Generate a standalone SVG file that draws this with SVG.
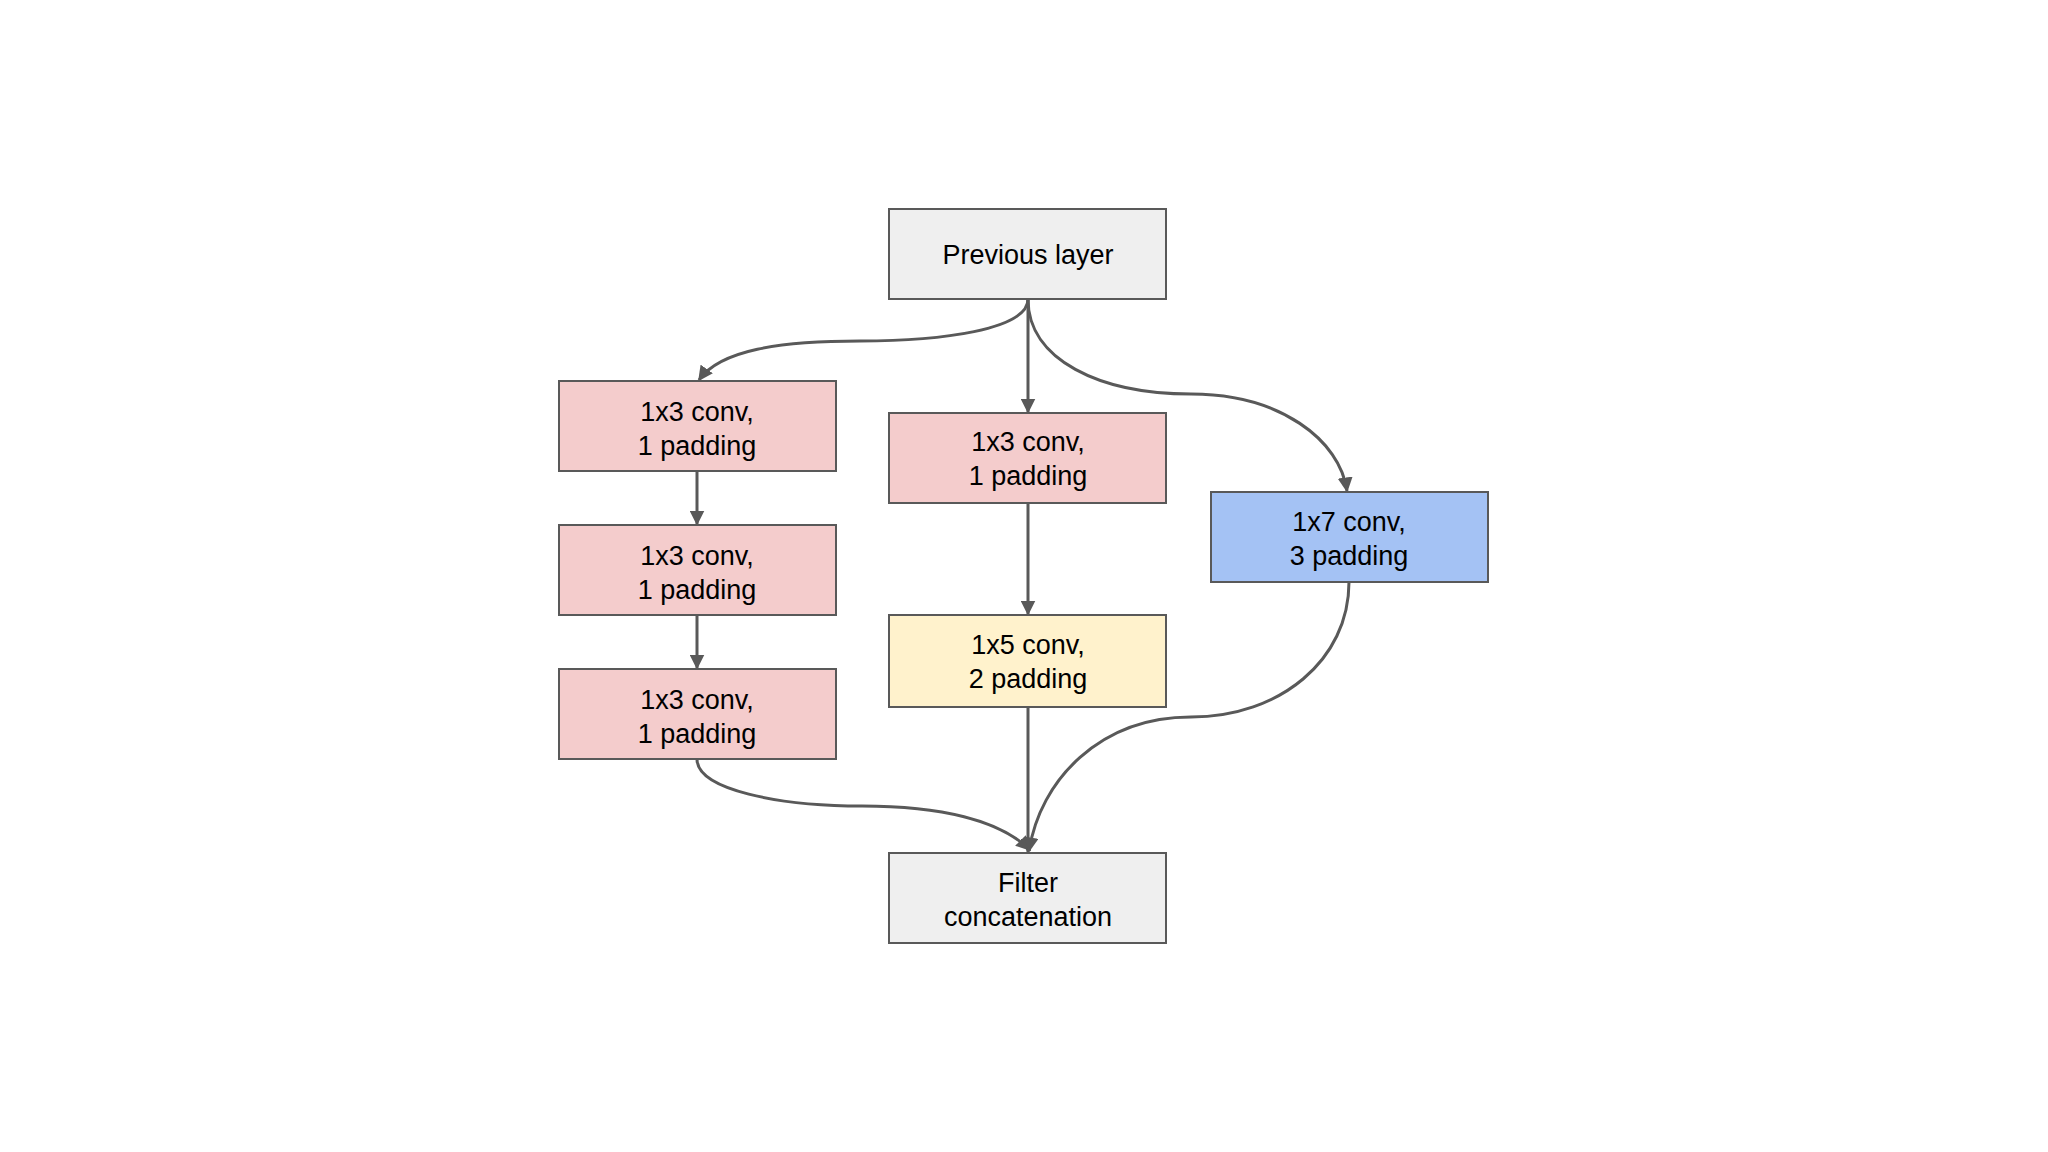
<svg xmlns="http://www.w3.org/2000/svg" width="2048" height="1152" viewBox="0 0 2048 1152">
<style>
.b{stroke:#595959;stroke-width:2}
.t{font-family:"Liberation Sans",Arial,sans-serif;font-size:27px;fill:#000;text-anchor:middle}
.c{fill:none;stroke:#595959;stroke-width:3;marker-end:url(#a)}
</style>
<defs><marker id="a" viewBox="0 0 10 10" refX="9" refY="5" markerWidth="5" markerHeight="5" orient="auto" markerUnits="strokeWidth"><path d="M0,0L10,5L0,10z" fill="#595959"/></marker></defs>
<rect width="2048" height="1152" fill="#fff"/>
<g id="connectors">
<path class="c" d="M1028,299 C1028,330 940,341 860,341 C780,341 720,350 699,380"/>
<path class="c" d="M1028,299 L1028,412"/>
<path class="c" d="M1028,299 C1028,360 1100,394 1191,394 C1280,394 1340,440 1347,491"/>
<path class="c" d="M697,471 L697,524"/>
<path class="c" d="M697,615 L697,668"/>
<path class="c" d="M1028,503 L1028,614"/>
<path class="c" d="M1028,707 L1028,852"/>
<path class="c" d="M697,759 C697,790 780,806 862,806 C940,806 1000,820 1030,850"/>
<path class="c" d="M1349,582 C1349,660 1280,717 1191,717 C1100,717 1040,780 1029,851"/>
</g>
<g id="prev"><rect class="b" x="889" y="209" width="277" height="90" fill="#efefef"/><text class="t" x="1028" y="264">Previous layer</text></g>
<g id="l1"><rect class="b" x="559" y="381" width="277" height="90" fill="#f4cccc"/><text class="t" x="697" y="421">1x3 conv,</text><text class="t" x="697" y="455">1 padding</text></g>
<g id="l2"><rect class="b" x="559" y="525" width="277" height="90" fill="#f4cccc"/><text class="t" x="697" y="565">1x3 conv,</text><text class="t" x="697" y="599">1 padding</text></g>
<g id="l3"><rect class="b" x="559" y="669" width="277" height="90" fill="#f4cccc"/><text class="t" x="697" y="709">1x3 conv,</text><text class="t" x="697" y="743">1 padding</text></g>
<g id="m1"><rect class="b" x="889" y="413" width="277" height="90" fill="#f4cccc"/><text class="t" x="1028" y="451">1x3 conv,</text><text class="t" x="1028" y="485">1 padding</text></g>
<g id="m2"><rect class="b" x="889" y="615" width="277" height="92" fill="#fff2cc"/><text class="t" x="1028" y="654">1x5 conv,</text><text class="t" x="1028" y="688">2 padding</text></g>
<g id="r1"><rect class="b" x="1211" y="492" width="277" height="90" fill="#a4c2f4"/><text class="t" x="1349" y="531">1x7 conv,</text><text class="t" x="1349" y="565">3 padding</text></g>
<g id="filter"><rect class="b" x="889" y="853" width="277" height="90" fill="#efefef"/><text class="t" x="1028" y="892">Filter</text><text class="t" x="1028" y="926">concatenation</text></g>
</svg>
